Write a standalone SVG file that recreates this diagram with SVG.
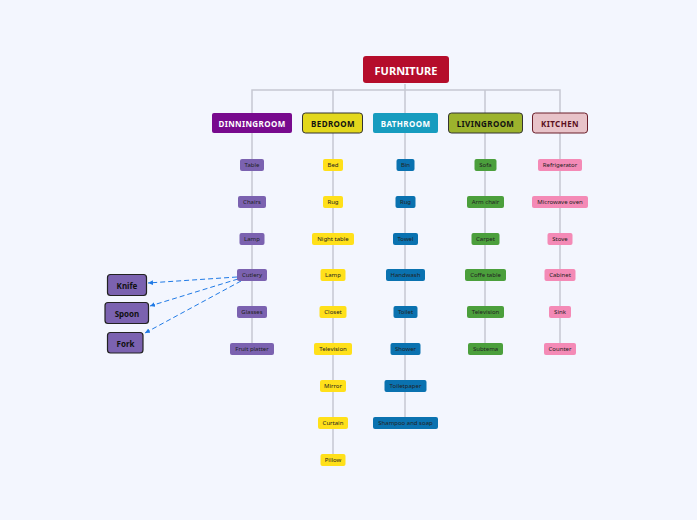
<svg xmlns="http://www.w3.org/2000/svg" width="697" height="520" viewBox="0 0 697 520">
<style>
text{font-family:"Noto Sans","DejaVu Sans",sans-serif;text-anchor:middle;dominant-baseline:central}
.cat{font-size:8px;font-weight:bold;letter-spacing:0.4px}
.it{font-size:6px;fill:#222}
.conn{stroke:#c6c8d2;stroke-width:1.5;fill:none}
.dash{stroke:#1f7ae6;stroke-width:1;fill:none;stroke-dasharray:5 3}
.d rect{fill:#7b62b0}
.b rect{fill:#ffe01a}
.w rect{fill:#0a72b0}
.l rect{fill:#4b9f3c}
.k rect{fill:#f48ab6}
.sub rect{fill:#7b62b0;stroke:#222;stroke-width:1.2}
.sub text{font-size:8px;font-weight:bold;fill:#111}
</style>
<defs>
<marker id="ah" markerWidth="6" markerHeight="6" refX="5" refY="3" orient="auto" markerUnits="userSpaceOnUse">
<path d="M0,0.5 L5,3 L0,5.5 z" fill="#1f7ae6"/>
</marker>
</defs>
<rect width="697" height="520" fill="#f3f6fe"/>
<g id="connectors">
<path class="conn" d="M405,84 V90 M252,113 V90 H560 V113 M333,90 V113 M405,90 V113 M485,90 V113"/>
<path class="conn" d="M252,133 V349 M333,133 V460 M405,133 V423 M485,133 V349 M560,133 V349"/>
<path class="dash" d="M237,277 L148,283" marker-end="url(#ah)"/>
<path class="dash" d="M238,279 L150,306" marker-end="url(#ah)"/>
<path class="dash" d="M241,281 L145,333" marker-end="url(#ah)"/>
</g>
<g id="furniture"><rect x="363" y="56" width="86" height="27" rx="3" fill="#b50d2b"/><text x="406" y="70" font-size="11" font-weight="bold" fill="#fff">FURNITURE</text></g>
<g id="dinningroom"><rect x="212" y="113" width="80" height="20" rx="2" fill="#780a8e"/><text class="cat" x="252" y="123.5" fill="#fff">DINNINGROOM</text></g>
<g id="bedroom"><rect x="302.5" y="113" width="60" height="20" rx="3" fill="#e3d81c" stroke="#333" stroke-width="1"/><text class="cat" x="333" y="123.5" fill="#111">BEDROOM</text></g>
<g id="bathroom"><rect x="373" y="113" width="65" height="20" rx="2" fill="#179cbf"/><text class="cat" x="405.5" y="123.5" fill="#fff">BATHROOM</text></g>
<g id="livingroom"><rect x="448.5" y="113" width="74" height="20" rx="3" fill="#9cb32d" stroke="#333" stroke-width="1"/><text class="cat" x="485.5" y="123.5" fill="#111">LIVINGROOM</text></g>
<g id="kitchen"><rect x="532.5" y="113" width="55" height="20" rx="3" fill="#e8c3c9" stroke="#6b1f2a" stroke-width="1"/><text class="cat" x="560" y="123.5" fill="#5a1020">KITCHEN</text></g>

<g id="d-table" class="d"><rect x="240" y="159" width="24" height="12" rx="2"/><text class="it" x="252" y="165">Table</text></g>
<g id="d-chairs" class="d"><rect x="238" y="196" width="28" height="12" rx="2"/><text class="it" x="252" y="202">Chairs</text></g>
<g id="d-lamp" class="d"><rect x="239.5" y="233" width="25" height="12" rx="2"/><text class="it" x="252" y="239">Lamp</text></g>
<g id="d-cutlery" class="d"><rect x="237" y="269" width="30" height="12" rx="2"/><text class="it" x="252" y="275">Cutlery</text></g>
<g id="d-glasses" class="d"><rect x="237" y="306" width="30" height="12" rx="2"/><text class="it" x="252" y="312">Glasses</text></g>
<g id="d-fruit" class="d"><rect x="230" y="343" width="44" height="12" rx="2"/><text class="it" x="252" y="349">Fruit platter</text></g>

<g id="b-bed" class="b"><rect x="323" y="159" width="20" height="12" rx="2"/><text class="it" x="333" y="165">Bed</text></g>
<g id="b-rug" class="b"><rect x="323" y="196" width="20" height="12" rx="2"/><text class="it" x="333" y="202">Rug</text></g>
<g id="b-night" class="b"><rect x="312" y="233" width="42" height="12" rx="2"/><text class="it" x="333" y="239">Night table</text></g>
<g id="b-lamp" class="b"><rect x="320.5" y="269" width="25" height="12" rx="2"/><text class="it" x="333" y="275">Lamp</text></g>
<g id="b-closet" class="b"><rect x="319.5" y="306" width="27" height="12" rx="2"/><text class="it" x="333" y="312">Closet</text></g>
<g id="b-tv" class="b"><rect x="314" y="343" width="38" height="12" rx="2"/><text class="it" x="333" y="349">Television</text></g>
<g id="b-mirror" class="b"><rect x="320" y="380" width="26" height="12" rx="2"/><text class="it" x="333" y="386">Mirror</text></g>
<g id="b-curtain" class="b"><rect x="318" y="417" width="30" height="12" rx="2"/><text class="it" x="333" y="423">Curtain</text></g>
<g id="b-pillow" class="b"><rect x="320.5" y="454" width="25" height="12" rx="2"/><text class="it" x="333" y="460">Pillow</text></g>

<g id="w-bin" class="w"><rect x="396.5" y="159" width="18" height="12" rx="2"/><text class="it" x="405.5" y="165">Bin</text></g>
<g id="w-rug" class="w"><rect x="395.5" y="196" width="20" height="12" rx="2"/><text class="it" x="405.5" y="202">Rug</text></g>
<g id="w-towel" class="w"><rect x="393" y="233" width="25" height="12" rx="2"/><text class="it" x="405.5" y="239">Towel</text></g>
<g id="w-handwash" class="w"><rect x="386" y="269" width="39" height="12" rx="2"/><text class="it" x="405.5" y="275">Handwash</text></g>
<g id="w-toilet" class="w"><rect x="393.5" y="306" width="24" height="12" rx="2"/><text class="it" x="405.5" y="312">Toilet</text></g>
<g id="w-shower" class="w"><rect x="390.5" y="343" width="30" height="12" rx="2"/><text class="it" x="405.5" y="349">Shower</text></g>
<g id="w-toiletpaper" class="w"><rect x="384.5" y="380" width="42" height="12" rx="2"/><text class="it" x="405.5" y="386">Toiletpaper</text></g>
<g id="w-shampoo" class="w"><rect x="373" y="417" width="65" height="12" rx="2"/><text class="it" x="405.5" y="423">Shampoo and soap</text></g>

<g id="l-sofa" class="l"><rect x="474.5" y="159" width="22" height="12" rx="2"/><text class="it" x="485.5" y="165">Sofa</text></g>
<g id="l-armchair" class="l"><rect x="467" y="196" width="37" height="12" rx="2"/><text class="it" x="485.5" y="202">Arm chair</text></g>
<g id="l-carpet" class="l"><rect x="471.5" y="233" width="28" height="12" rx="2"/><text class="it" x="485.5" y="239">Carpet</text></g>
<g id="l-coffe" class="l"><rect x="465" y="269" width="41" height="12" rx="2"/><text class="it" x="485.5" y="275">Coffe table</text></g>
<g id="l-tv" class="l"><rect x="467" y="306" width="37" height="12" rx="2"/><text class="it" x="485.5" y="312">Television</text></g>
<g id="l-subtema" class="l"><rect x="468" y="343" width="35" height="12" rx="2"/><text class="it" x="485.5" y="349">Subtema</text></g>

<g id="k-fridge" class="k"><rect x="538" y="159" width="44" height="12" rx="2"/><text class="it" x="560" y="165">Refrigerator</text></g>
<g id="k-microwave" class="k"><rect x="532" y="196" width="56" height="12" rx="2"/><text class="it" x="560" y="202">Microwave oven</text></g>
<g id="k-stove" class="k"><rect x="547.5" y="233" width="25" height="12" rx="2"/><text class="it" x="560" y="239">Stove</text></g>
<g id="k-cabinet" class="k"><rect x="544.5" y="269" width="31" height="12" rx="2"/><text class="it" x="560" y="275">Cabinet</text></g>
<g id="k-sink" class="k"><rect x="549" y="306" width="22" height="12" rx="2"/><text class="it" x="560" y="312">Sink</text></g>
<g id="k-counter" class="k"><rect x="544" y="343" width="32" height="12" rx="2"/><text class="it" x="560" y="349">Counter</text></g>

<g id="knife" class="sub"><rect x="107.5" y="274.5" width="39" height="21" rx="3"/><text x="127" y="285">Knife</text></g>
<g id="spoon" class="sub"><rect x="105" y="302.5" width="43.5" height="21" rx="3"/><text x="127" y="313">Spoon</text></g>
<g id="fork" class="sub"><rect x="107.5" y="332.5" width="35.5" height="20.5" rx="3"/><text x="125.5" y="343">Fork</text></g>
</svg>
